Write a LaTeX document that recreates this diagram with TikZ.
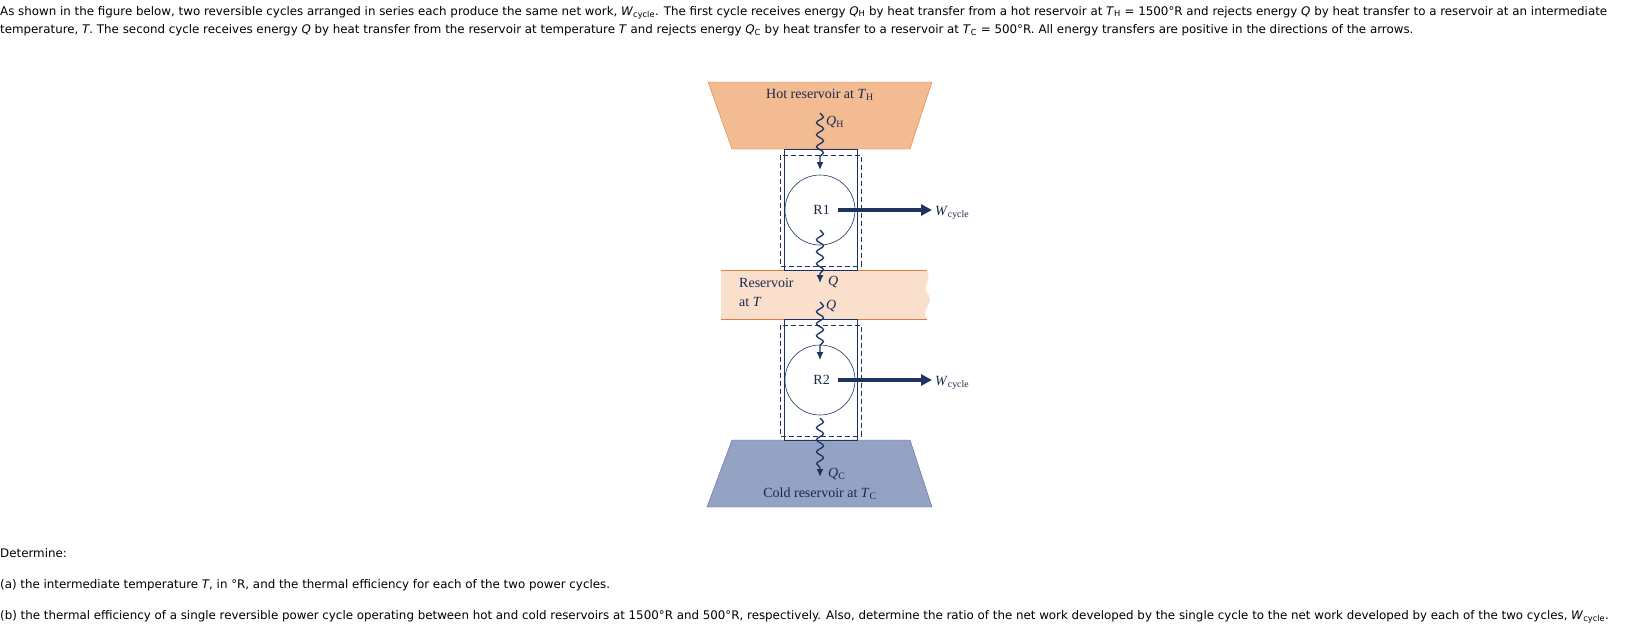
\documentclass[tikz,border=0pt]{standalone}
\usepackage{fontspec}
\setmainfont{DejaVu Sans}
\newfontfamily\dia{Liberation Serif}
\usetikzlibrary{decorations.pathmorphing,arrows.meta}
\definecolor{navy}{RGB}{31,51,97}
\definecolor{hotf}{RGB}{242,187,146}
\definecolor{hotb}{RGB}{224,123,57}
\definecolor{midf}{RGB}{249,223,204}
\definecolor{coldf}{RGB}{148,163,196}
\definecolor{coldb}{RGB}{90,106,143}
\begin{document}
\begin{tikzpicture}[x=1pt,y=-1pt,
  txt/.style={anchor=base west,inner sep=0pt,font=\fontsize{11.85}{14}\selectfont},
  lbl/.style={inner sep=0pt,font=\dia\fontsize{14}{16}\selectfont,text=navy!80!black},
  wavy/.style={navy,line width=1.3pt,decorate,decoration={snake,amplitude=3.5pt,segment length=12pt,post length=9pt},-{Latex[length=8pt,width=7pt]}},
  work/.style={navy,line width=3.5pt,-{Triangle[length=11pt,width=11pt]}},
  cyc/.style={circle,draw=navy,line width=0.6pt,minimum size=70pt,inner sep=0pt}]
\useasboundingbox (0,0) rectangle (1650,630);
\fill[white] (0,0) rectangle (1650,630);
% text
\node[txt] (t1) at (0,15) {As shown in the figure below, two reversible cycles arranged in series each produce the same net work, \textit{W}\textsubscript{cycle}. The first cycle receives energy \textit{Q}\textsubscript{H} by heat transfer from a hot reservoir at \textit{T}\textsubscript{H} = 1500°R and rejects energy \textit{Q} by heat transfer to a reservoir at an intermediate};
\node[txt] (t2) at (0,33) {temperature, \textit{T}. The second cycle receives energy \textit{Q} by heat transfer from the reservoir at temperature \textit{T} and rejects energy \textit{Q}\textsubscript{C} by heat transfer to a reservoir at \textit{T}\textsubscript{C} = 500°R. All energy transfers are positive in the directions of the arrows.};
\node[txt] (t3) at (0,557) {Determine:};
\node[txt] (t4) at (0,588) {(a) the intermediate temperature \textit{T}, in °R, and the thermal efficiency for each of the two power cycles.};
\node[txt] (t5) at (0,619) {(b) the thermal efficiency of a single reversible power cycle operating between hot and cold reservoirs at 1500°R and 500°R, respectively. Also, determine the ratio of the net work developed by the single cycle to the net work developed by each of the two cycles, \textit{W}\textsubscript{cycle}.};
% reservoirs
\filldraw[fill=hotf,draw=hotb,thin] (708,82) -- (932,82) -- (910,149) -- (732,149) -- cycle;
\fill[midf] (721,270) -- (926,270) .. controls (934,280) and (920,285) .. (928,294) .. controls (935,303) and (920,310) .. (927,319) -- (721,319) -- cycle;
\draw[hotb,thin] (721,270) -- (927,270) (721,319) -- (927,319);
\filldraw[fill=coldf,draw=coldb,thin] (732,440) -- (910,440) -- (932,507) -- (707,507) -- cycle;
% boxes
\draw[navy,line width=0.7pt] (784,149) rectangle (857,270);
\draw[navy,line width=0.7pt,dash pattern=on 5pt off 3pt] (780,155) rectangle (861,266);
\draw[navy,line width=0.7pt] (784,319) rectangle (857,440);
\draw[navy,line width=0.7pt,dash pattern=on 5pt off 3pt] (780,325) rectangle (861,436);
\node[cyc] (r1) at (820,210) {};
\node[cyc] (r2) at (820,380) {};
\node[lbl,anchor=east] (r1l) at (830,210) {R1};
\node[lbl,anchor=east] (r2l) at (830,380) {R2};
% labels
\node[lbl] (hot) at (820,95) {Hot reservoir at \textit{T}\textsubscript{H}};
\node[lbl,anchor=south] (cold) at (820,500) {Cold reservoir at \textit{T}\textsubscript{C}};
\node[lbl,anchor=base west] (res1) at (739,287) {Reservoir};
\node[lbl,anchor=base west] (res2) at (739,306) {at \textit{T}};
% wavy arrows
\coordinate (a1) at (820,113); \coordinate (b1) at (820,170);
\coordinate (a2) at (820,230); \coordinate (b2) at (820,283);
\coordinate (a3) at (820,302); \coordinate (b3) at (820,360);
\coordinate (a4) at (820,418); \coordinate (b4) at (820,477);
\draw[wavy] (a1) -- (b1);
\draw[wavy] (a2) -- (b2);
\draw[wavy] (a3) -- (b3);
\draw[wavy] (a4) -- (b4);
\node[lbl,anchor=west] (qh) at (826,122) {\textit{Q}\textsubscript{H}};
\node[lbl,anchor=west] (q1) at (828,282) {\textit{Q}};
\node[lbl,anchor=west] (q2) at (826,306) {\textit{Q}};
\node[lbl,anchor=west] (qc) at (828,474) {\textit{Q}\textsubscript{C}};
% work
\coordinate (w1s) at (838,210); \coordinate (w2s) at (838,380);
\node[lbl,anchor=west] (w1) at (935,213) {\textit{W}\textsubscript{cycle}};
\node[lbl,anchor=west] (w2) at (935,383) {\textit{W}\textsubscript{cycle}};
\draw[work] (w1s) -- (932,210);
\draw[work] (w2s) -- (932,380);
\end{tikzpicture}
\end{document}
